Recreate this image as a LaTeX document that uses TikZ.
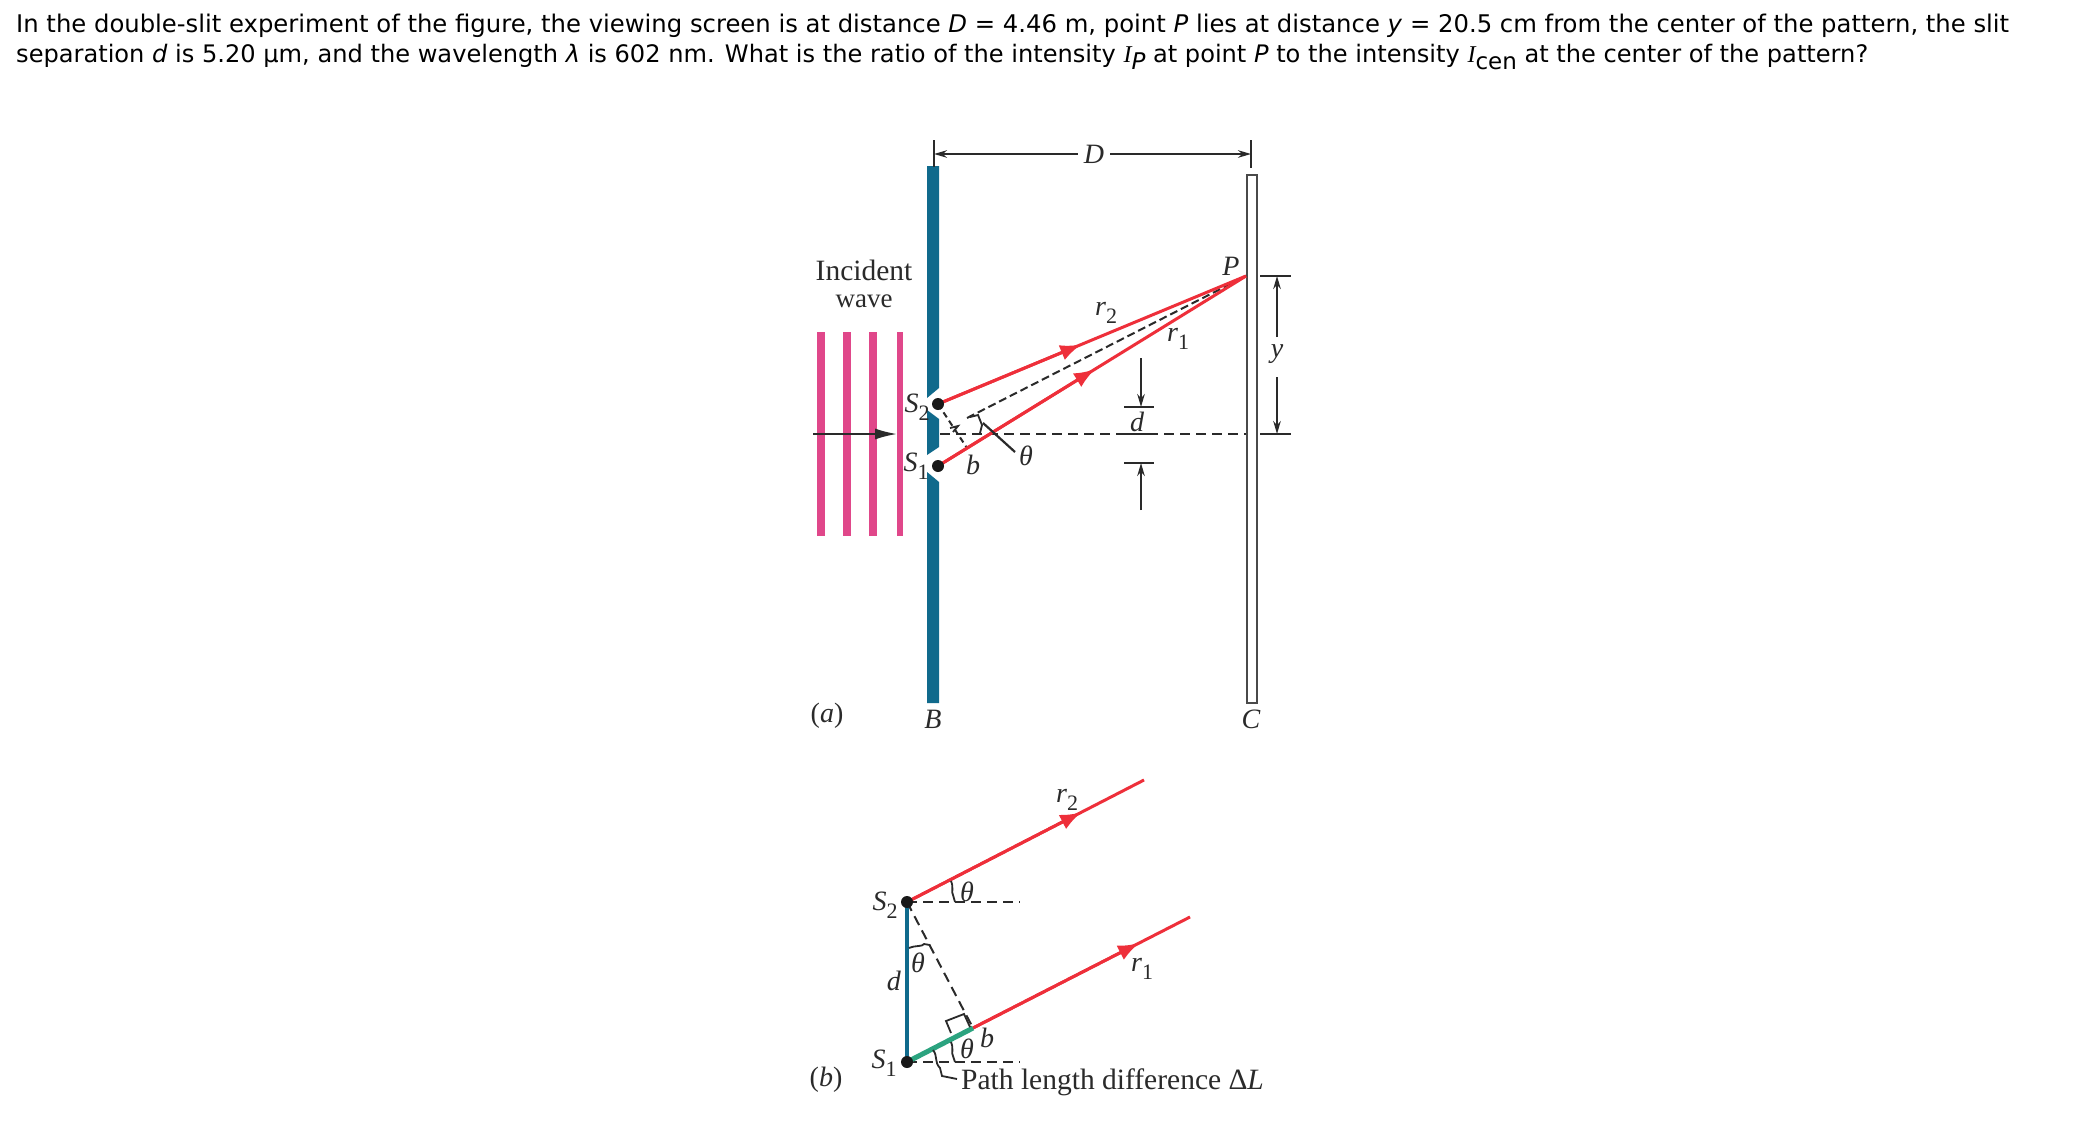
\documentclass[tikz,border=0pt]{standalone}
\usepackage{fontspec}
\setmainfont{Liberation Serif}
\newfontfamily\headfont{DejaVu Sans}
\newfontfamily\headserif{Liberation Serif}
\usetikzlibrary{arrows.meta,calc}
\definecolor{barrierblue}{HTML}{106A8C}
\definecolor{rayred}{HTML}{EE2F3A}
\definecolor{wavepink}{HTML}{E0478A}
\definecolor{pathgreen}{HTML}{2BA37F}
\definecolor{inkgray}{HTML}{2A2A2A}
\newcommand\lowsub[2]{\textit{#1}\raisebox{-0.28em}{\fontsize{22}{22}\selectfont #2}}
\newcommand\headsub[1]{\raisebox{-0.3em}{\fontsize{23}{23}\selectfont #1}}
\tikzset{
  x=1pt,y=-1pt,
  ray/.style={draw=rayred,line width=3pt},
  rayhead/.style={ray,-{Latex[length=21pt,width=16pt,fill=rayred]}},
  dim/.style={draw=inkgray,line width=1.9pt},
  dimhead/.style={dim,-{Stealth[length=13pt,width=7.5pt,fill=inkgray]}},
  dashline/.style={draw=inkgray,line width=2pt,dash pattern=on 10pt off 6pt},
  thin mark/.style={draw=inkgray,line width=1.8pt},
  figlabel/.style={font=\fontsize{28}{30}\selectfont,text=inkgray,inner sep=0pt},
  figtext/.style={font=\fontsize{29.5}{31}\selectfont,text=inkgray,inner sep=0pt},
  headline/.style={anchor=base west,inner sep=0pt,font=\headfont\fontsize{24.3}{28}\selectfont,text=black},
  dotmark/.style={circle,fill=black!90,inner sep=0pt,minimum size=12pt},
  barrier/.style={fill=barrierblue,draw=none},
  wavebar/.style={fill=wavepink,draw=none},
}
\begin{document}
\begin{tikzpicture}
\useasboundingbox (0,0) rectangle (2082,1122);
\fill[white] (0,0) rectangle (2082,1122);
% question text
\node[headline] (q1) at (16,32) {In the double-slit experiment of the figure, the viewing screen is at distance \textit{D} = 4.46 m, point \textit{P} lies at distance \textit{y} = 20.5 cm from the center of the pattern, the slit};
\node[headline,font=\headfont\fontsize{24.1}{28}\selectfont] (q2) at (16,62) {separation \textit{d} is 5.20 µm, and the wavelength \textit{λ} is 602 nm. What is the ratio of the intensity {\headserif\itshape I}\headsub{\textit{P}} at point \textit{P} to the intensity {\headserif\itshape I}\headsub{cen} at the center of the pattern?};

% ---------- part (a) ----------
\foreach \xa/\xb in {817/825,843/851,869/877,897/903}
  \fill[wavebar] (\xa,332) rectangle (\xb,536);
\fill[barrier] (927,166) -- (939,166) -- (939,388) -- (927,398) -- cycle;
\fill[barrier] (927,410) -- (939,419) -- (939,447) -- (927,455) -- cycle;
\fill[barrier] (927,472) -- (939,482) -- (939,703) -- (927,703) -- cycle;
% screen
\draw[draw=inkgray!85,line width=2.6pt] (1247,175) rectangle (1257,703);
% coordinates
\coordinate (S2a) at (938,404);
\coordinate (S1a) at (938,466);
\coordinate (Pa) at (1246,276);
\coordinate (r2tip) at ($(S2a)!0.465!(Pa)$);
\coordinate (r1tip) at ($(S1a)!0.51!(Pa)$);
\coordinate (ctr) at (940,434);
\coordinate (ctrR) at (1246,434);
\coordinate (footA) at (967,448);
\coordinate (midA) at (967,418);
% centre dashed, perpendicular
\draw[dashline] (ctr) -- (ctrR);
\draw[dashline,dash pattern=on 6pt off 4pt] (S2a) -- (footA);
\draw[dashline,dash pattern=on 8pt off 4pt] (midA) -- (Pa);
% rays
\draw[ray] (S2a) -- (Pa);
\draw[rayhead] (S2a) -- (r2tip);
\draw[ray] (S1a) -- (Pa);
\draw[rayhead] (S1a) -- (r1tip);
\node[dotmark] (dotS2) at (S2a) {};
\node[dotmark] (dotS1) at (S1a) {};
% small marks
\draw[thin mark] (950,428) -- (958,426) -- (953,432);
\draw[thin mark] (970,417) -- (978,415) -- (982,425) -- (980,433);
\coordinate (thLead) at (983,423);
\coordinate (thEnd) at (1015,452);
\draw[thin mark,line width=2.2pt] (thLead) -- (thEnd);
% incident arrow
\coordinate (incA) at (813,434);
\coordinate (incB) at (897,434);
\draw[dim,-{Latex[length=22pt,width=11pt,fill=inkgray]}] (incA) -- (incB);
% D dimension
\coordinate (dL) at (934,154);
\coordinate (dR) at (1251,154);
\node[figlabel,font=\fontsize{28}{30}\itshape] (Dlab) at (1094,154) {D};
\draw[dim] (934,140) -- (934,167);
\draw[dim] (1251,140) -- (1251,168);
\draw[dimhead] (Dlab.west) ++(-6,0) -- (dL);
\draw[dimhead] (Dlab.east) ++(6,0) -- (dR);
% y dimension
\coordinate (yT) at (1277,276);
\coordinate (yB) at (1277,434);
\draw[dim] (1260,276) -- (1291,276);
\draw[dim] (1260,434) -- (1291,434);
\node[figlabel,font=\fontsize{28}{30}\itshape] (ylab) at (1277,354) {y};
\draw[dimhead] (1277,337) -- (yT);
\draw[dimhead] (1277,377) -- (yB);
% d dimension
\coordinate (dT) at (1141,407);
\coordinate (dB) at (1141,463);
\draw[dim] (1124,407) -- (1154,407);
\draw[dim] (1124,463) -- (1154,463);
\draw[dimhead] (1141,358) -- (dT);
\draw[dimhead] (1141,510) -- (dB);
\draw[dashline] (1122,434) -- (1154,434);
\node[figlabel,font=\fontsize{28}{30}\itshape,fill=white,inner sep=1pt] (dlab) at (1137,422) {d};
% labels
\node[figtext] (inc) at (864,270) {Incident};
\node[figtext,font=\fontsize{27}{29}\selectfont] (wave) at (864,301) {wave};
\node[figlabel] (Plab) at (1231,266) {\textit{P}};
\node[figlabel] (r2lab) at (1106,313) {\lowsub{r}{2}};
\node[figlabel] (r1lab) at (1178,339) {\lowsub{r}{1}};
\node[figlabel] (S2lab) at (917,407) {\lowsub{S}{2}};
\node[figlabel] (S1lab) at (916,466) {\lowsub{S}{1}};
\node[figlabel] (blab) at (973,465) {\textit{b}};
\node[figlabel] (thlab) at (1026,456) {\textit{θ}};
\node[figlabel] (alab) at (827,716) {(\textit{a})};
\node[figlabel] (Blab) at (933,719) {\textit{B}};
\node[figlabel] (Clab) at (1251,719) {\textit{C}};

% ---------- part (b) ----------
\begin{scope}[xshift=-4pt]
\coordinate (S2b) at (911,902);
\coordinate (S1b) at (911,1062);
\coordinate (footB) at (977,1028);
\coordinate (r2end) at (1148,780);
\coordinate (r2btip) at ($(S2b)!0.735!(r2end)$);
\coordinate (r1end) at (1194,917);
\coordinate (r1btip) at ($(footB)!0.765!(r1end)$);
\draw[dashline] (S2b) -- (1024,902);
\draw[dashline] (S1b) -- (1024,1062);
\draw[dashline] (S2b) -- (footB);
\draw[draw=barrierblue,line width=4pt] (S2b) -- (S1b);
\draw[ray] (S2b) -- (r2end);
\draw[rayhead] (S2b) -- (r2btip);
\draw[ray] (footB) -- (r1end);
\draw[rayhead] (footB) -- (r1btip);
\draw[draw=pathgreen,line width=5pt] (S1b) -- (footB);
\node[dotmark] (dotS2b) at (S2b) {};
\node[dotmark] (dotS1b) at (S1b) {};
% right angle
\draw[thin mark] (955,1033) -- (950,1021) -- (968,1014) -- (974,1027);
% angle marks
\draw[thin mark] (955,881) .. controls (958,888) and (955,892) .. (957,895) -- (959,902);
\draw[thin mark] (955,1042) .. controls (958,1049) and (955,1053) .. (957,1056) -- (959,1062);
\draw[thin mark] (913,948) .. controls (920,945) and (926,947) .. (928,944) -- (934,945);
% path length leader
\coordinate (pathT) at (961,1079);
\draw[thin mark] (937,1050) .. controls (942,1056) and (938,1062) .. (944,1068) -- (946,1076) -- (pathT);
\node[figlabel] (th1) at (971,892) {\textit{θ}};
\node[figlabel] (th2) at (971,1049) {\textit{θ}};
\node[figlabel] (th3) at (922,963) {\textit{θ}};
\node[figlabel] (dlabb) at (898,981) {\textit{d}};
\node[figlabel] (blabb) at (991,1038) {\textit{b}};
\node[figlabel] (S2blab) at (889,905) {\lowsub{S}{2}};
\node[figlabel] (S1blab) at (888,1063) {\lowsub{S}{1}};
\node[figlabel] (r2blab) at (1071,800) {\lowsub{r}{2}};
\node[figlabel] (r1blab) at (1146,969) {\lowsub{r}{1}};
\node[figlabel] (blabel) at (830,1080) {(\textit{b})};
\node[figtext,anchor=west] (pathlab) at (965,1082) {Path length difference Δ\textit{L}};
\end{scope}
\end{tikzpicture}
\end{document}
